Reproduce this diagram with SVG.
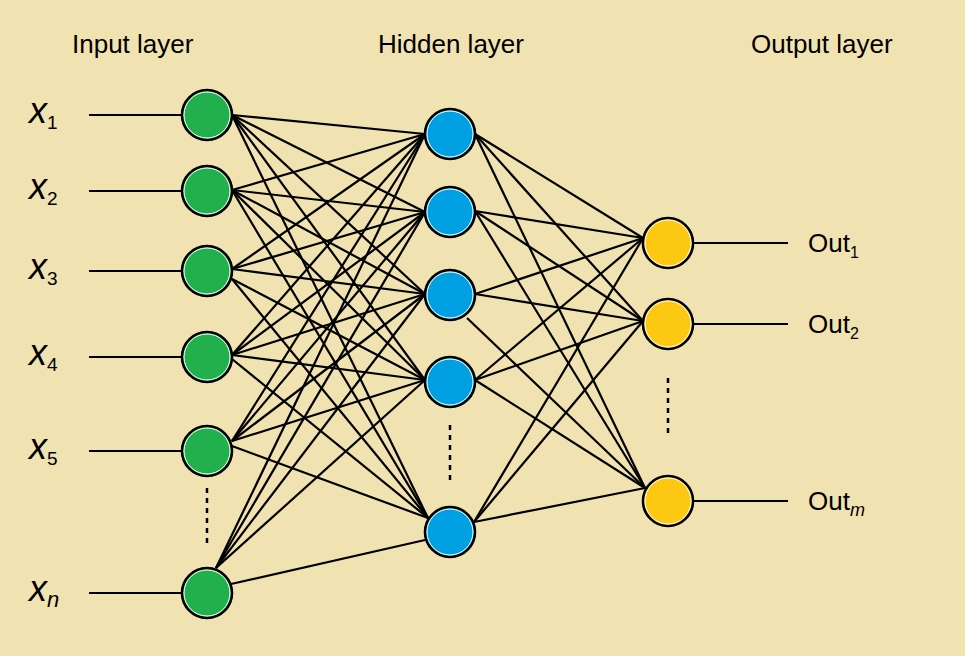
<svg xmlns="http://www.w3.org/2000/svg" width="965" height="656" viewBox="0 0 965 656">
<style>
.t{font-family:"Liberation Sans",Arial,sans-serif;font-size:26px;fill:#000}
.v{font-family:"Liberation Sans",Arial,sans-serif;font-style:italic;fill:#000}
.c line{stroke:#000;stroke-width:2.2}
.n{stroke:#000;stroke-width:2.6}
.ring{fill:none;stroke:#fff;stroke-width:1}
.in{fill:#22B04C}
.hid{fill:#00A0E2}
.out{fill:#FDC811}
.dots{stroke:#000;stroke-width:2.5;stroke-dasharray:5 5}
</style>
<rect width="965" height="656" fill="#F0E3B1"/>
<g id="titles">
<text class="t" x="72" y="53">Input layer</text>
<text class="t" x="378" y="53">Hidden layer</text>
<text class="t" x="751" y="53">Output layer</text>
</g>
<g id="connectors" class="c">
<line x1="89" y1="115" x2="182" y2="115"/>
<line x1="89" y1="191" x2="182" y2="191"/>
<line x1="89" y1="271" x2="182" y2="271"/>
<line x1="89" y1="357" x2="182" y2="357"/>
<line x1="89" y1="451" x2="182" y2="451"/>
<line x1="89" y1="593" x2="182" y2="593"/>
<line x1="693" y1="243" x2="788" y2="243"/>
<line x1="693" y1="324" x2="788" y2="324"/>
<line x1="693" y1="501" x2="788" y2="501"/>
<line x1="232" y1="115" x2="425" y2="134"/>
<line x1="232" y1="115" x2="425" y2="212"/>
<line x1="232" y1="115" x2="425" y2="294"/>
<line x1="232" y1="115" x2="425" y2="380"/>
<line x1="232" y1="115" x2="428" y2="518"/>
<line x1="232" y1="190" x2="425" y2="134"/>
<line x1="232" y1="190" x2="425" y2="212"/>
<line x1="232" y1="190" x2="425" y2="294"/>
<line x1="232" y1="190" x2="425" y2="380"/>
<line x1="232" y1="190" x2="428" y2="518"/>
<line x1="232" y1="269" x2="425" y2="134"/>
<line x1="232" y1="269" x2="425" y2="212"/>
<line x1="232" y1="269" x2="425" y2="294"/>
<line x1="232" y1="279" x2="425" y2="380"/>
<line x1="232" y1="279" x2="428" y2="518"/>
<line x1="232" y1="355" x2="425" y2="134"/>
<line x1="232" y1="355" x2="425" y2="212"/>
<line x1="232" y1="355" x2="425" y2="294"/>
<line x1="232" y1="355" x2="425" y2="380"/>
<line x1="232" y1="359" x2="428" y2="518"/>
<line x1="232" y1="441" x2="425" y2="134"/>
<line x1="232" y1="441" x2="425" y2="212"/>
<line x1="232" y1="441" x2="425" y2="294"/>
<line x1="232" y1="441" x2="425" y2="380"/>
<line x1="232" y1="446" x2="428" y2="518"/>
<line x1="216" y1="568" x2="425" y2="134"/>
<line x1="216" y1="568" x2="425" y2="212"/>
<line x1="216" y1="568" x2="425" y2="294"/>
<line x1="216" y1="568" x2="425" y2="380"/>
<line x1="231" y1="584" x2="425" y2="540"/>
<line x1="475" y1="134" x2="643" y2="238"/>
<line x1="475" y1="134" x2="643" y2="321"/>
<line x1="475" y1="134" x2="645" y2="488"/>
<line x1="475" y1="211" x2="643" y2="238"/>
<line x1="475" y1="211" x2="643" y2="321"/>
<line x1="475" y1="211" x2="645" y2="488"/>
<line x1="475" y1="294" x2="643" y2="238"/>
<line x1="475" y1="294" x2="643" y2="321"/>
<line x1="467" y1="318" x2="645" y2="488"/>
<line x1="475" y1="380" x2="643" y2="238"/>
<line x1="475" y1="380" x2="643" y2="321"/>
<line x1="475" y1="380" x2="645" y2="488"/>
<line x1="474" y1="522" x2="643" y2="238"/>
<line x1="474" y1="522" x2="643" y2="321"/>
<line x1="474" y1="522" x2="645" y2="488"/>
</g>
<g id="ellipses">
<line class="dots" x1="207" y1="488" x2="207" y2="545"/>
<line class="dots" x1="450" y1="425" x2="450" y2="482"/>
<line class="dots" x1="668" y1="378" x2="668" y2="435"/>
</g>
<g id="input-nodes">
<g id="in1"><circle class="n in" cx="207" cy="115" r="25"/><circle class="ring" cx="207" cy="115" r="23"/></g>
<g id="in2"><circle class="n in" cx="207" cy="191" r="25"/><circle class="ring" cx="207" cy="191" r="23"/></g>
<g id="in3"><circle class="n in" cx="207" cy="271" r="25"/><circle class="ring" cx="207" cy="271" r="23"/></g>
<g id="in4"><circle class="n in" cx="207" cy="357" r="25"/><circle class="ring" cx="207" cy="357" r="23"/></g>
<g id="in5"><circle class="n in" cx="207" cy="451" r="25"/><circle class="ring" cx="207" cy="451" r="23"/></g>
<g id="inn"><circle class="n in" cx="207" cy="593" r="25"/><circle class="ring" cx="207" cy="593" r="23"/></g>
</g>
<g id="hidden-nodes">
<g id="h1"><circle class="n hid" cx="450" cy="134" r="25"/><circle class="ring" cx="450" cy="134" r="23"/></g>
<g id="h2"><circle class="n hid" cx="450" cy="212" r="25"/><circle class="ring" cx="450" cy="212" r="23"/></g>
<g id="h3"><circle class="n hid" cx="450" cy="295" r="25"/><circle class="ring" cx="450" cy="295" r="23"/></g>
<g id="h4"><circle class="n hid" cx="450" cy="382" r="25"/><circle class="ring" cx="450" cy="382" r="23"/></g>
<g id="h5"><circle class="n hid" cx="450" cy="532" r="25"/><circle class="ring" cx="450" cy="532" r="23"/></g>
</g>
<g id="output-nodes">
<g id="o1"><circle class="n out" cx="668" cy="243" r="25"/><circle class="ring" cx="668" cy="243" r="23"/></g>
<g id="o2"><circle class="n out" cx="668" cy="324" r="25"/><circle class="ring" cx="668" cy="324" r="23"/></g>
<g id="om"><circle class="n out" cx="668" cy="501" r="25"/><circle class="ring" cx="668" cy="501" r="23"/></g>
</g>
<g id="input-labels">
<text class="v" x="29" y="123" font-size="36">x<tspan font-size="19" font-style="normal" dy="6">1</tspan></text>
<text class="v" x="29" y="199" font-size="36">x<tspan font-size="19" font-style="normal" dy="6">2</tspan></text>
<text class="v" x="29" y="279" font-size="36">x<tspan font-size="19" font-style="normal" dy="6">3</tspan></text>
<text class="v" x="29" y="365" font-size="36">x<tspan font-size="19" font-style="normal" dy="6">4</tspan></text>
<text class="v" x="29" y="459" font-size="36">x<tspan font-size="19" font-style="normal" dy="6">5</tspan></text>
<text class="v" x="29" y="601" font-size="36">x<tspan font-size="22" dy="6">n</tspan></text>
</g>
<g id="output-labels">
<text class="t" x="808" y="252">Out<tspan font-size="16" dy="6">1</tspan></text>
<text class="t" x="808" y="333">Out<tspan font-size="16" dy="6">2</tspan></text>
<text class="t" x="808" y="510">Out<tspan font-size="18" font-style="italic" dy="6">m</tspan></text>
</g>
</svg>
